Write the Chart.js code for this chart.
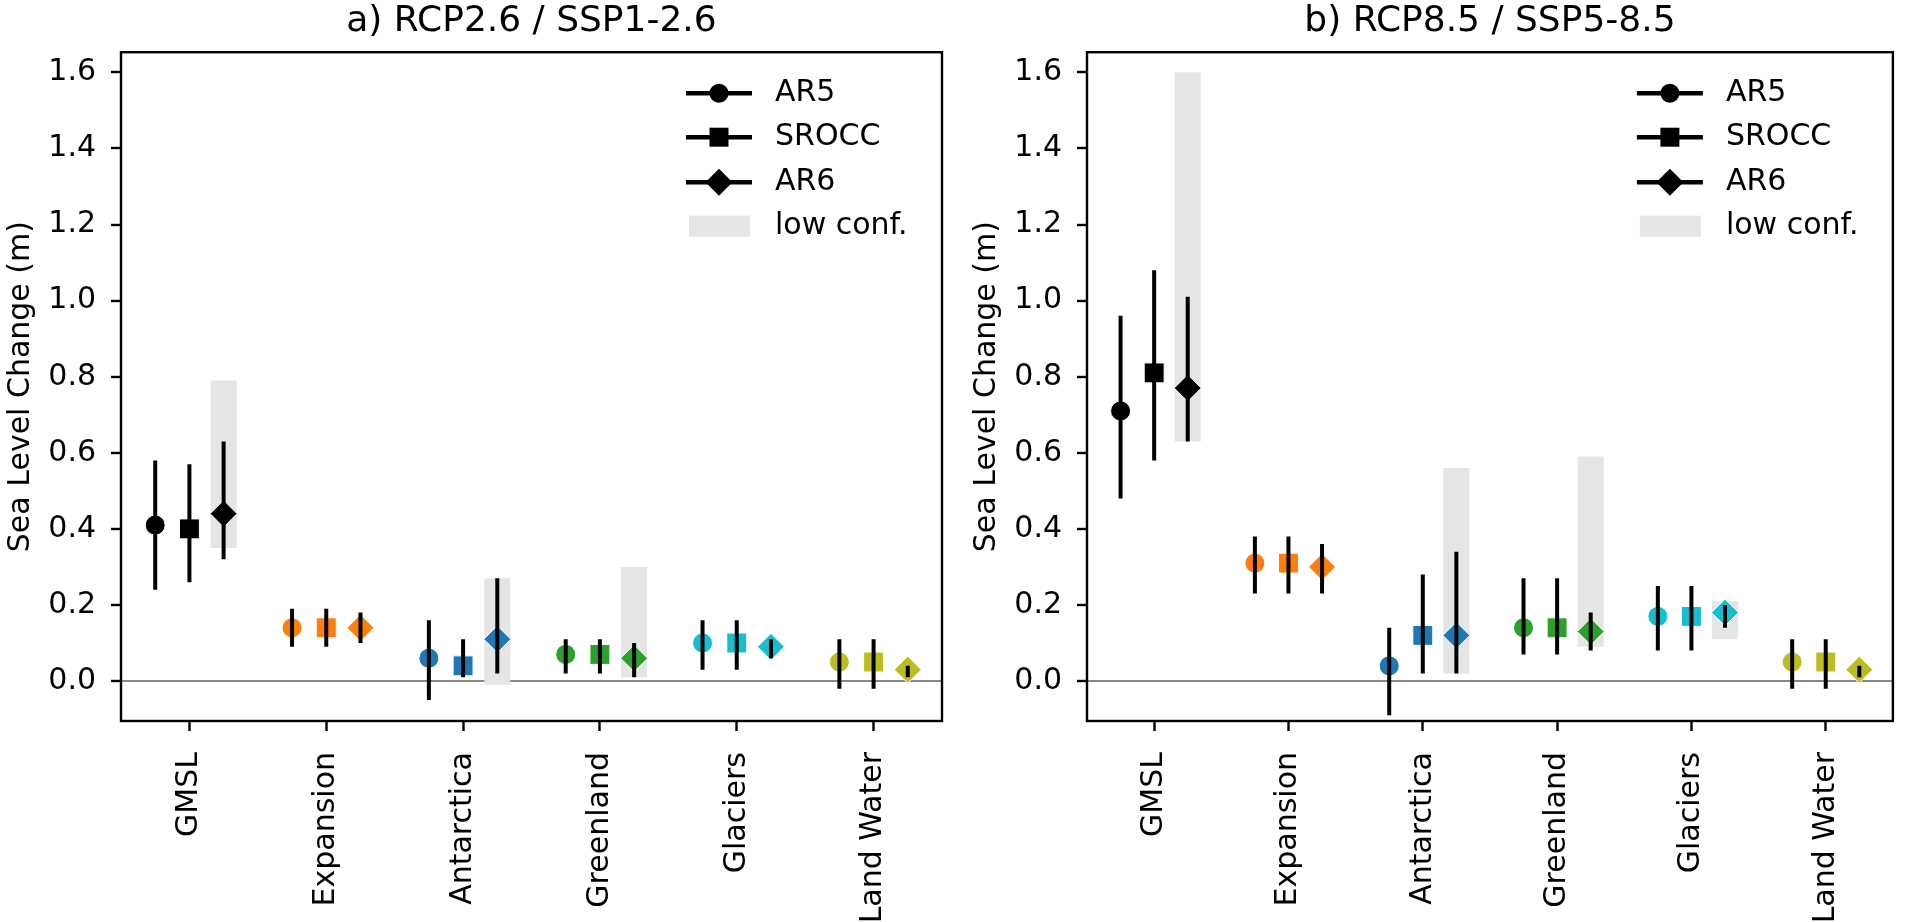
<!DOCTYPE html>
<html>
<head>
<meta charset="utf-8">
<title>Sea Level Change</title>
<script src="https://cdn.jsdelivr.net/npm/chart.js"></script>
<style>
  body { margin: 0; background: #fff; }
  canvas { position: absolute; top: 0; }
  #painel_a { left: 0; }
  #painel_b { left: 966px; }
</style>
</head>
<body>
<canvas id="painel_a" width="960" height="922"></canvas>
<canvas id="painel_b" width="942" height="922"></canvas>
<script>
// Componentes no eixo x e cor de cada um
const categorias = ['GMSL', 'Expansion', 'Antarctica', 'Greenland', 'Glaciers', 'Land Water'];
const cores = ['#000000', '#ff7f0e', '#1f77b4', '#2ca02c', '#17becf', '#bcbd22'];
const ticksY = [0, 0.2, 0.4, 0.6, 0.8, 1.0, 1.2, 1.4, 1.6];
const legendaTextos = ['AR5', 'SROCC', 'AR6', 'low conf.'];

// a) RCP2.6 / SSP1-2.6  (mediana, limite inferior, limite superior)
const rcp26_ar5 = [0.41, 0.14, 0.06, 0.07, 0.10, 0.05];
const rcp26_ar5_min = [0.24, 0.09, -0.05, 0.02, 0.03, -0.02];
const rcp26_ar5_max = [0.58, 0.19, 0.16, 0.11, 0.16, 0.11];
const rcp26_srocc = [0.40, 0.14, 0.04, 0.07, 0.10, 0.05];
const rcp26_srocc_min = [0.26, 0.09, 0.01, 0.02, 0.03, -0.02];
const rcp26_srocc_max = [0.57, 0.19, 0.11, 0.11, 0.16, 0.11];
const rcp26_ar6 = [0.44, 0.14, 0.11, 0.06, 0.09, 0.03];
const rcp26_ar6_min = [0.32, 0.10, 0.02, 0.01, 0.06, 0.01];
const rcp26_ar6_max = [0.63, 0.18, 0.27, 0.10, 0.11, 0.04];
const rcp26_baixa_min = [0.35, null, -0.01, 0.01, null, null];
const rcp26_baixa_max = [0.79, null, 0.27, 0.30, null, null];

// b) RCP8.5 / SSP5-8.5
const rcp85_ar5 = [0.71, 0.31, 0.04, 0.14, 0.17, 0.05];
const rcp85_ar5_min = [0.48, 0.23, -0.09, 0.07, 0.08, -0.02];
const rcp85_ar5_max = [0.96, 0.38, 0.14, 0.27, 0.25, 0.11];
const rcp85_srocc = [0.81, 0.31, 0.12, 0.14, 0.17, 0.05];
const rcp85_srocc_min = [0.58, 0.23, 0.02, 0.07, 0.08, -0.02];
const rcp85_srocc_max = [1.08, 0.38, 0.28, 0.27, 0.25, 0.11];
const rcp85_ar6 = [0.77, 0.30, 0.12, 0.13, 0.18, 0.03];
const rcp85_ar6_min = [0.63, 0.23, 0.02, 0.08, 0.14, 0.01];
const rcp85_ar6_max = [1.01, 0.36, 0.34, 0.18, 0.20, 0.04];
const rcp85_baixa_min = [0.63, null, 0.02, 0.09, 0.11, null];
const rcp85_baixa_max = [1.60, null, 0.56, 0.59, 0.21, null];

Chart.defaults.font.family = "'DejaVu Sans', sans-serif";
Chart.defaults.color = '#000';

// Formato dos marcadores: AR5 círculo, SROCC quadrado, AR6 losango
const estilos = [
  { estilo: 'circle', raio: 10, desloc: -0.25 },
  { estilo: 'rect', raio: 14.1, desloc: 0 },
  { estilo: 'rectRot', raio: 13.5, desloc: 0.25 }
];

function desenharMarcador(ctx, k, x, y) {
  ctx.beginPath();
  if (k === 0) ctx.arc(x, y, 9.5, 0, Math.PI * 2);
  else if (k === 1) ctx.rect(x - 9.5, y - 9.5, 19, 19);
  else { ctx.moveTo(x - 13.5, y); ctx.lineTo(x, y - 13.5); ctx.lineTo(x + 13.5, y); ctx.lineTo(x, y + 13.5); ctx.closePath(); }
  ctx.fill();
}

// Legenda desenhada dentro da área do gráfico (canto superior direito)
const legendaPlugin = {
  id: 'legenda',
  afterDraw(chart) {
    const { ctx, chartArea } = chart;
    const x0 = chartArea.right - 256, x1 = chartArea.right - 190, xm = (x0 + x1) / 2;
    const xt = chartArea.right - 167;
    const linhas = [41, 85, 130, 174];
    ctx.save();
    ctx.font = "30px 'DejaVu Sans'";
    ctx.textBaseline = 'middle';
    legendaTextos.forEach((t, k) => {
      const y = chartArea.top + linhas[k];
      if (k < 3) {
        ctx.strokeStyle = '#000';
        ctx.lineWidth = 4.5;
        ctx.beginPath(); ctx.moveTo(x0, y); ctx.lineTo(x1, y); ctx.stroke();
        ctx.fillStyle = '#000';
        desenharMarcador(ctx, k, xm, y);
      } else {
        ctx.fillStyle = '#e5e5e5';
        ctx.fillRect(x0 + 3, y - 10.5, 61, 21);
      }
      ctx.fillStyle = '#000';
      ctx.fillText(t, xt, y);
    });
    ctx.restore();
  }
};

// Moldura preta em volta da área do gráfico
const molduraPlugin = {
  id: 'moldura',
  afterDraw(chart) {
    const { ctx, chartArea } = chart;
    ctx.save();
    ctx.strokeStyle = '#000';
    ctx.lineWidth = 2.4;
    ctx.strokeRect(chartArea.left, chartArea.top, chartArea.right - chartArea.left, chartArea.bottom - chartArea.top);
    ctx.restore();
  }
};

function criarPainel(id, titulo, series, baixaMin, baixaMax, folgaDireita) {
  const datasets = [];
  // caixas cinzas de baixa confiança (AR6)
  baixaMin.forEach((v, i) => {
    if (v === null) return;
    datasets.push({
      data: [{ x: i + 0.25, y: v }, { x: i + 0.25, y: baixaMax[i] }],
      showLine: true, borderColor: '#e5e5e5', borderWidth: 26, borderCapStyle: 'butt',
      pointRadius: 0, order: 3
    });
  });
  series.forEach((s, k) => {
    const e = estilos[k];
    // marcadores coloridos
    datasets.push({
      label: legendaTextos[k],
      data: s.med.map((v, i) => ({ x: i + e.desloc, y: v })),
      pointStyle: e.estilo, pointRadius: e.raio,
      pointBackgroundColor: cores, pointBorderColor: '#ffffff', pointBorderWidth: 1,
      order: 1
    });
    // barras de erro pretas
    s.med.forEach((v, i) => {
      datasets.push({
        data: [{ x: i + e.desloc, y: s.min[i] }, { x: i + e.desloc, y: s.max[i] }],
        showLine: true, borderColor: '#000', borderWidth: 4, borderCapStyle: 'butt',
        pointRadius: 0, order: 0
      });
    });
  });

  return new Chart(document.getElementById(id).getContext('2d'), {
    type: 'scatter',
    data: { datasets: datasets },
    options: {
      responsive: false,
      animation: false,
      devicePixelRatio: 1,
      events: [],
      layout: { padding: { left: 0, right: folgaDireita, top: 0, bottom: 0 } },
      plugins: {
        legend: { display: false },
        tooltip: { enabled: false },
        title: {
          display: true, text: titulo, fullSize: false,
          font: { size: 36, weight: 'normal' }, color: '#000',
          padding: { top: 0, bottom: 9 }
        }
      },
      scales: {
        x: {
          type: 'linear', min: -0.5, max: 5.5,
          afterBuildTicks: s => { s.ticks = categorias.map((c, i) => ({ value: i })); },
          afterFit: s => { s.height = 201; },
          ticks: {
            callback: v => categorias[v], font: { size: 30 }, color: '#000',
            minRotation: 90, maxRotation: 90, autoSkip: false, padding: 21
          },
          grid: { drawOnChartArea: false, tickLength: 10, tickColor: '#000', tickWidth: 2.4 },
          border: { display: false }
        },
        y: {
          min: -0.105, max: 1.653,
          afterBuildTicks: s => { s.ticks = ticksY.map(v => ({ value: v })); },
          afterFit: s => { s.width = 121; },
          ticks: { callback: v => v.toFixed(1), font: { size: 30 }, color: '#000', padding: 15 },
          grid: {
            color: c => (c.tick && c.tick.value === 0) ? '#888888' : 'rgba(0,0,0,0)',
            lineWidth: 2, tickLength: 10, tickColor: '#000', tickWidth: 2.4
          },
          border: { display: false },
          title: {
            display: true, text: 'Sea Level Change (m)', font: { size: 30 }, color: '#000',
            padding: { top: 3, bottom: 0 }
          }
        }
      }
    },
    plugins: [molduraPlugin, legendaPlugin]
  });
}

criarPainel('painel_a', 'a) RCP2.6 / SSP1-2.6', [
  { med: rcp26_ar5, min: rcp26_ar5_min, max: rcp26_ar5_max },
  { med: rcp26_srocc, min: rcp26_srocc_min, max: rcp26_srocc_max },
  { med: rcp26_ar6, min: rcp26_ar6_min, max: rcp26_ar6_max }
], rcp26_baixa_min, rcp26_baixa_max, 18);

criarPainel('painel_b', 'b) RCP8.5 / SSP5-8.5', [
  { med: rcp85_ar5, min: rcp85_ar5_min, max: rcp85_ar5_max },
  { med: rcp85_srocc, min: rcp85_srocc_min, max: rcp85_srocc_max },
  { med: rcp85_ar6, min: rcp85_ar6_min, max: rcp85_ar6_max }
], rcp85_baixa_min, rcp85_baixa_max, 1);
</script>
</body>
</html>
